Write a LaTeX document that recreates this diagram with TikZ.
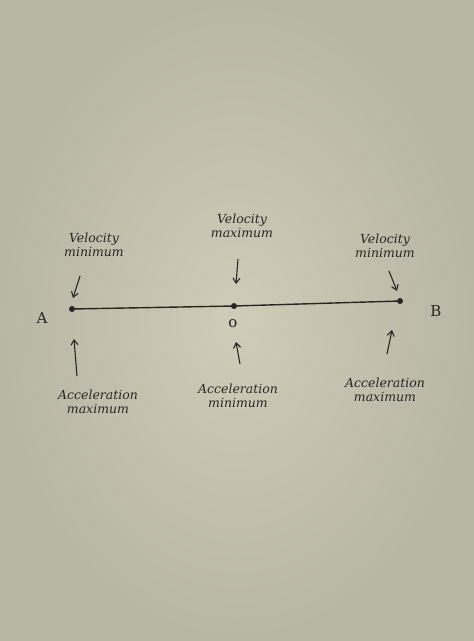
\documentclass[tikz,border=0pt]{standalone}
\usepackage{fontspec}
\setmainfont{DejaVu Serif}
\usetikzlibrary{arrows.meta}
\begin{document}
\begin{tikzpicture}[x=1pt,y=-1pt,
  ink/.style={draw=inkc,line width=1.4pt},
  lbl/.style={text=inkc,font=\itshape\fontsize{12.5}{14}\selectfont,align=center,inner sep=0pt},
  pt/.style={circle,fill=inkc,inner sep=0pt,minimum size=6pt},
  ptname/.style={text=inkc,font=\fontsize{15}{16}\selectfont,inner sep=0pt},
  arr/.style={draw=inkc,line width=1.1pt,-{Straight Barb[length=5pt,width=7pt]}}]
\definecolor{inkc}{HTML}{2A2522}
\definecolor{paper}{HTML}{CFCDB9}
\definecolor{paperedge}{HTML}{B8B6A4}
\shade[inner color=paper, outer color=paperedge] (0,0) rectangle (474,641);
\useasboundingbox (0,0) rectangle (474,641);
% points
\node[pt] (A) at (72,309) {};
\node[pt] (O) at (234,306) {};
\node[pt] (B) at (400,301) {};
\draw[ink] (A) -- (O) -- (B);
\node[ptname] (Al) at (42,318) {A};
\node[ptname] (Ol) at (233,324) {o};
\node[ptname] (Bl) at (436,311) {B};
% top labels
\node[lbl] (v1) at (94,245) {Velocity\\minimum};
\node[lbl] (v2) at (242,226) {Velocity\\maximum};
\node[lbl] (v3) at (385,246) {Velocity\\minimum};
\coordinate (v1s) at (80,276); \coordinate (v1e) at (73,298);
\coordinate (v2s) at (238,259); \coordinate (v2e) at (236,284);
\coordinate (v3s) at (389,271); \coordinate (v3e) at (397,291);
\draw[arr] (v1s) -- (v1e);
\draw[arr] (v2s) -- (v2e);
\draw[arr] (v3s) -- (v3e);
% bottom labels
\node[lbl] (a1) at (98,402) {Acceleration\\maximum};
\node[lbl] (a2) at (238,396) {Acceleration\\minimum};
\node[lbl] (a3) at (385,390) {Acceleration\\maximum};
\coordinate (a1s) at (77,376); \coordinate (a1e) at (74,339);
\coordinate (a2s) at (240,364); \coordinate (a2e) at (236,342);
\coordinate (a3s) at (387,354); \coordinate (a3e) at (392,330);
\draw[arr] (a1s) -- (a1e);
\draw[arr] (a2s) -- (a2e);
\draw[arr] (a3s) -- (a3e);
\end{tikzpicture}
\end{document}
